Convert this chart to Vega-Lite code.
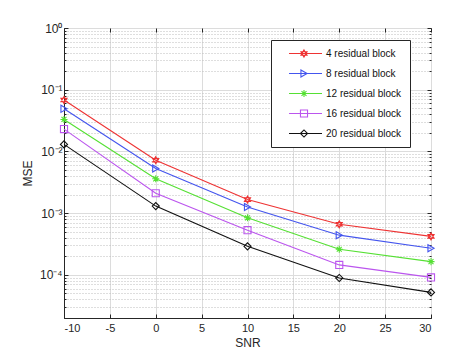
{
  "$schema": "https://vega.github.io/schema/vega-lite/v6.json",
  "width": 367,
  "height": 290,
  "padding": {"left": 21, "top": 22, "right": 5, "bottom": 5},
  "background": "white",
  "config": {
    "font": "Liberation Sans",
    "view": {"stroke": "#262626", "strokeWidth": 1},
    "axis": {"domainColor": "#262626", "tickColor": "#262626", "labelColor": "#262626", "titleColor": "#262626", "labelFont": "Liberation Sans", "titleFont": "Liberation Sans", "titleFontWeight": "normal", "labelFontSize": 11, "titleFontSize": 12}
  },
  "data": {"values": [
    {"SNR": -10, "MSE": 0.068, "series": "4 residual block", "name": "4 residual block"},
    {"SNR": 0, "MSE": 0.0072, "series": "4 residual block", "name": "4 residual block"},
    {"SNR": 10, "MSE": 0.00166, "series": "4 residual block", "name": "4 residual block"},
    {"SNR": 20, "MSE": 0.00066, "series": "4 residual block", "name": "4 residual block"},
    {"SNR": 30, "MSE": 0.00042, "series": "4 residual block", "name": "4 residual block"},
    {"SNR": -10, "MSE": 0.049, "series": "8 residual block", "name": "8 residual block"},
    {"SNR": 0, "MSE": 0.0053, "series": "8 residual block", "name": "8 residual block"},
    {"SNR": 10, "MSE": 0.00126, "series": "8 residual block", "name": "8 residual block"},
    {"SNR": 20, "MSE": 0.00044, "series": "8 residual block", "name": "8 residual block"},
    {"SNR": 30, "MSE": 0.00027, "series": "8 residual block", "name": "8 residual block"},
    {"SNR": -10, "MSE": 0.033, "series": "12 residual block", "name": "12 residual block"},
    {"SNR": 0, "MSE": 0.0036, "series": "12 residual block", "name": "12 residual block"},
    {"SNR": 10, "MSE": 0.00084, "series": "12 residual block", "name": "12 residual block"},
    {"SNR": 20, "MSE": 0.00026, "series": "12 residual block", "name": "12 residual block"},
    {"SNR": 30, "MSE": 0.000164, "series": "12 residual block", "name": "12 residual block"},
    {"SNR": -10, "MSE": 0.023, "series": "16 residual block", "name": "16 residual block"},
    {"SNR": 0, "MSE": 0.0021, "series": "16 residual block", "name": "16 residual block"},
    {"SNR": 10, "MSE": 0.00053, "series": "16 residual block", "name": "16 residual block"},
    {"SNR": 20, "MSE": 0.000145, "series": "16 residual block", "name": "16 residual block"},
    {"SNR": 30, "MSE": 0.000091, "series": "16 residual block", "name": "16 residual block"},
    {"SNR": -10, "MSE": 0.013, "series": "20 residual block", "name": "20 residual block"},
    {"SNR": 0, "MSE": 0.0013, "series": "20 residual block", "name": "20 residual block"},
    {"SNR": 10, "MSE": 0.00029, "series": "20 residual block", "name": "20 residual block"},
    {"SNR": 20, "MSE": 0.000089, "series": "20 residual block", "name": "20 residual block"},
    {"SNR": 30, "MSE": 0.000052, "series": "20 residual block", "name": "20 residual block"}
  ]},
  "resolve": {"axis": {"x": "independent", "y": "independent"}},
  "layer": [
    {
      "mark": {"type": "line", "strokeWidth": 1.1},
      "encoding": {
        "x": {"field": "SNR", "type": "quantitative", "scale": {"domain": [-10, 30], "nice": false},
          "axis": {"title": "SNR", "values": [-10, -5, 0, 5, 10, 15, 20, 25, 30], "labelExpr": "'' + datum.value", "tickSize": -4, "labelPadding": 8, "titlePadding": 4, "gridColor": "#dcdcdc", "gridWidth": 1, "domain": true}},
        "y": {"field": "MSE", "type": "quantitative", "scale": {"type": "log", "domain": [0.00002, 1], "nice": false},
          "axis": {"title": "MSE", "titlePadding": 5,
            "values": [0.00002, 0.00003, 0.00004, 0.00005, 0.00006, 0.00007, 0.00008, 0.00009, 0.0001, 0.0002, 0.0003, 0.0004, 0.0005, 0.0006, 0.0007, 0.0008, 0.0009, 0.001, 0.002, 0.003, 0.004, 0.005, 0.006, 0.007, 0.008, 0.009, 0.01, 0.02, 0.03, 0.04, 0.05, 0.06, 0.07, 0.08, 0.09, 0.1, 0.2, 0.3, 0.4, 0.5, 0.6, 0.7, 0.8, 0.9, 1],
            "labelExpr": "abs(datum.value - 1) < 1e-9 ? '10⁰' : abs(datum.value - 0.1) < 1e-10 ? '10⁻¹' : abs(datum.value - 0.01) < 1e-11 ? '10⁻²' : abs(datum.value - 0.001) < 1e-12 ? '10⁻³' : abs(datum.value - 0.0001) < 1e-13 ? '10⁻⁴' : ''",
            "labelPadding": 6, "labelOverlap": false, "labelFontSize": 12,
            "tickSize": {"condition": {"test": "indexof([1,0.1,0.01,0.001,0.0001], datum.value) >= 0", "value": -4}, "value": -2},
            "gridDash": {"condition": {"test": "indexof([1,0.1,0.01,0.001,0.0001], datum.value) >= 0", "value": []}, "value": [1, 2]},
            "gridColor": {"condition": {"test": "indexof([1,0.1,0.01,0.001,0.0001], datum.value) >= 0", "value": "#dcdcdc"}, "value": "#bdbdbd"}}},
        "color": {"field": "series", "type": "nominal",
          "scale": {"domain": ["4 residual block", "8 residual block", "12 residual block", "16 residual block", "20 residual block"], "range": ["#ee3333", "#4455ee", "#55e033", "#bb55ee", "#111111"]},
          "legend": {"title": null, "orient": "none", "legendX": 207, "legendY": 12, "symbolType": "stroke", "symbolSize": 1089, "symbolStrokeWidth": 1.1, "symbolOffset": 9, "labelOffset": 3, "labelFontSize": 10, "labelFont": "Liberation Sans", "labelColor": "#111111", "rowPadding": 9, "clipHeight": 11, "padding": 8, "strokeColor": "#262626", "fillColor": "white", "labelLimit": 200}}
      }
    },
    {
      "mark": {"type": "point", "filled": false, "size": 50, "strokeWidth": 1.1, "opacity": 1},
      "encoding": {
        "x": {"field": "SNR", "type": "quantitative",
          "axis": {"orient": "top", "title": null, "labels": false, "grid": false, "domain": false, "values": [-10, -5, 0, 5, 10, 15, 20, 25, 30], "tickSize": -4}},
        "y": {"field": "MSE", "type": "quantitative",
          "axis": {"orient": "right", "title": null, "labels": false, "grid": false, "domain": false,
            "values": [0.00002, 0.00003, 0.00004, 0.00005, 0.00006, 0.00007, 0.00008, 0.00009, 0.0001, 0.0002, 0.0003, 0.0004, 0.0005, 0.0006, 0.0007, 0.0008, 0.0009, 0.001, 0.002, 0.003, 0.004, 0.005, 0.006, 0.007, 0.008, 0.009, 0.01, 0.02, 0.03, 0.04, 0.05, 0.06, 0.07, 0.08, 0.09, 0.1, 0.2, 0.3, 0.4, 0.5, 0.6, 0.7, 0.8, 0.9, 1],
            "tickSize": {"condition": {"test": "indexof([1,0.1,0.01,0.001,0.0001], datum.value) >= 0", "value": -4}, "value": -2}}},
        "stroke": {"field": "name", "type": "nominal", "sort": null,
          "scale": {"range": ["#ee3333", "#4455ee", "#55e033", "#bb55ee", "#111111"]}},
        "shape": {"field": "name", "type": "nominal", "sort": null,
          "scale": {"range": ["M0,-1L0.866,0.5L-0.866,0.5Z M0,1L0.866,-0.5L-0.866,-0.5Z", "triangle-right", "M-1,0H1M0,-1V1M-0.7,-0.7L0.7,0.7M-0.7,0.7L0.7,-0.7", "square", "diamond"]},
          "legend": {"title": null, "orient": "none", "legendX": 207, "legendY": 12, "symbolSize": 50, "symbolOffset": 20, "symbolFillColor": "white", "symbolStrokeWidth": 1.1, "labelOffset": 3, "labelFontSize": 10, "labelExpr": "''", "rowPadding": 9, "clipHeight": 11, "padding": 8}}
      }
    }
  ]
}
